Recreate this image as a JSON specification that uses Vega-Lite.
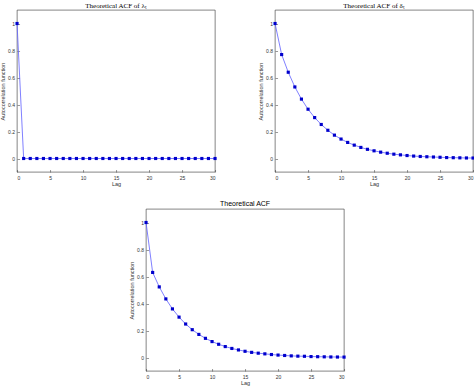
{
  "$schema": "https://vega.github.io/schema/vega-lite/v6.json",
  "padding": {"left": 0, "top": 1, "right": 0, "bottom": 0},
  "background": "white",
  "spacing": 12,
  "center": true,
  "datasets": {
    "lambda": [
      {"lag":0,"acf":1},{"lag":1,"acf":0},{"lag":2,"acf":0},{"lag":3,"acf":0},{"lag":4,"acf":0},{"lag":5,"acf":0},{"lag":6,"acf":0},{"lag":7,"acf":0},{"lag":8,"acf":0},{"lag":9,"acf":0},{"lag":10,"acf":0},{"lag":11,"acf":0},{"lag":12,"acf":0},{"lag":13,"acf":0},{"lag":14,"acf":0},{"lag":15,"acf":0},{"lag":16,"acf":0},{"lag":17,"acf":0},{"lag":18,"acf":0},{"lag":19,"acf":0},{"lag":20,"acf":0},{"lag":21,"acf":0},{"lag":22,"acf":0},{"lag":23,"acf":0},{"lag":24,"acf":0},{"lag":25,"acf":0},{"lag":26,"acf":0},{"lag":27,"acf":0},{"lag":28,"acf":0},{"lag":29,"acf":0},{"lag":30,"acf":0}
    ],
    "delta": [
      {"lag":0,"acf":1},{"lag":1,"acf":0.77},{"lag":2,"acf":0.639},{"lag":3,"acf":0.53},{"lag":4,"acf":0.44},{"lag":5,"acf":0.365},{"lag":6,"acf":0.303},{"lag":7,"acf":0.252},{"lag":8,"acf":0.209},{"lag":9,"acf":0.173},{"lag":10,"acf":0.144},{"lag":11,"acf":0.119},{"lag":12,"acf":0.099},{"lag":13,"acf":0.082},{"lag":14,"acf":0.068},{"lag":15,"acf":0.057},{"lag":16,"acf":0.047},{"lag":17,"acf":0.039},{"lag":18,"acf":0.032},{"lag":19,"acf":0.027},{"lag":20,"acf":0.022},{"lag":21,"acf":0.018},{"lag":22,"acf":0.015},{"lag":23,"acf":0.013},{"lag":24,"acf":0.011},{"lag":25,"acf":0.009},{"lag":26,"acf":0.007},{"lag":27,"acf":0.006},{"lag":28,"acf":0.005},{"lag":29,"acf":0.004},{"lag":30,"acf":0.0035}
    ],
    "total": [
      {"lag":0,"acf":1},{"lag":1,"acf":0.63},{"lag":2,"acf":0.523},{"lag":3,"acf":0.434},{"lag":4,"acf":0.36},{"lag":5,"acf":0.299},{"lag":6,"acf":0.248},{"lag":7,"acf":0.206},{"lag":8,"acf":0.171},{"lag":9,"acf":0.142},{"lag":10,"acf":0.118},{"lag":11,"acf":0.098},{"lag":12,"acf":0.081},{"lag":13,"acf":0.067},{"lag":14,"acf":0.056},{"lag":15,"acf":0.046},{"lag":16,"acf":0.038},{"lag":17,"acf":0.032},{"lag":18,"acf":0.027},{"lag":19,"acf":0.022},{"lag":20,"acf":0.018},{"lag":21,"acf":0.015},{"lag":22,"acf":0.012},{"lag":23,"acf":0.01},{"lag":24,"acf":0.009},{"lag":25,"acf":0.007},{"lag":26,"acf":0.006},{"lag":27,"acf":0.005},{"lag":28,"acf":0.004},{"lag":29,"acf":0.0035},{"lag":30,"acf":0.003}
    ]
  },
  "vconcat": [
    {
      "hconcat": [
        {
          "width": 198, "height": 162,
          "title": {"text": "Theoretical ACF of λₜ", "font": "Liberation Serif", "fontSize": 7, "fontWeight": "normal", "offset": 1},
          "data": {"name": "lambda"},
          "encoding": {
            "x": {"field": "lag", "type": "quantitative", "scale": {"domain": [0, 30], "nice": false}, "axis": {"title": "Lag", "values": [0,5,10,15,20,25,30], "labelOverlap": false, "format": "~g"}},
            "y": {"field": "acf", "type": "quantitative", "scale": {"domain": [-0.1, 1.1], "nice": false, "zero": false}, "axis": {"title": "Autocorrelation function", "values": [0,0.2,0.4,0.6,0.8,1], "labelOverlap": false, "format": "~g"}}
          },
          "layer": [
            {"mark": {"type": "line", "color": "#6060ff", "strokeWidth": 0.8}},
            {"mark": {"type": "square", "color": "#0000cc", "filled": true, "size": 10, "opacity": 1}}
          ]
        },
        {
          "width": 198, "height": 162,
          "title": {"text": "Theoretical ACF of δₜ", "font": "Liberation Serif", "fontSize": 7, "fontWeight": "normal", "offset": 1},
          "data": {"name": "delta"},
          "encoding": {
            "x": {"field": "lag", "type": "quantitative", "scale": {"domain": [0, 30], "nice": false}, "axis": {"title": "Lag", "values": [0,5,10,15,20,25,30], "labelOverlap": false, "format": "~g"}},
            "y": {"field": "acf", "type": "quantitative", "scale": {"domain": [-0.1, 1.1], "nice": false, "zero": false}, "axis": {"title": "Autocorrelation function", "values": [0,0.2,0.4,0.6,0.8,1], "labelOverlap": false, "format": "~g"}}
          },
          "layer": [
            {"mark": {"type": "line", "color": "#6060ff", "strokeWidth": 0.8}},
            {"mark": {"type": "square", "color": "#0000cc", "filled": true, "size": 10, "opacity": 1}}
          ]
        }
      ]
    },
    {
      "width": 198, "height": 162,
      "title": {"text": "Theoretical ACF", "font": "Liberation Sans", "fontSize": 7, "fontWeight": "normal", "offset": 2},
      "data": {"name": "total"},
      "encoding": {
        "x": {"field": "lag", "type": "quantitative", "scale": {"domain": [0, 30], "nice": false}, "axis": {"title": "Lag", "values": [0,5,10,15,20,25,30], "labelOverlap": false, "format": "~g"}},
        "y": {"field": "acf", "type": "quantitative", "scale": {"domain": [-0.1, 1.1], "nice": false, "zero": false}, "axis": {"title": "Autocorrelation function", "values": [0,0.2,0.4,0.6,0.8,1], "labelOverlap": false, "format": "~g"}}
      },
      "layer": [
        {"mark": {"type": "line", "color": "#6060ff", "strokeWidth": 0.8}},
        {"mark": {"type": "square", "color": "#0000cc", "filled": true, "size": 10, "opacity": 1}}
      ]
    }
  ],
  "config": {
    "view": {"stroke": "#333333", "strokeWidth": 0.6},
    "concat": {"spacing": 41},
    "axis": {
      "grid": false,
      "domain": false,
      "labelFont": "Liberation Sans",
      "titleFont": "Liberation Sans",
      "labelFontSize": 5,
      "titleFontSize": 5.5,
      "titleFontWeight": "normal",
      "labelColor": "#333333",
      "titleColor": "#333333",
      "tickSize": -2.5,
      "tickColor": "#333333",
      "tickWidth": 0.5,
      "labelPadding": 5.5,
      "titlePadding": 1
    },
    "axisY": {"labelPadding": 5, "titlePadding": 2}
  }
}
